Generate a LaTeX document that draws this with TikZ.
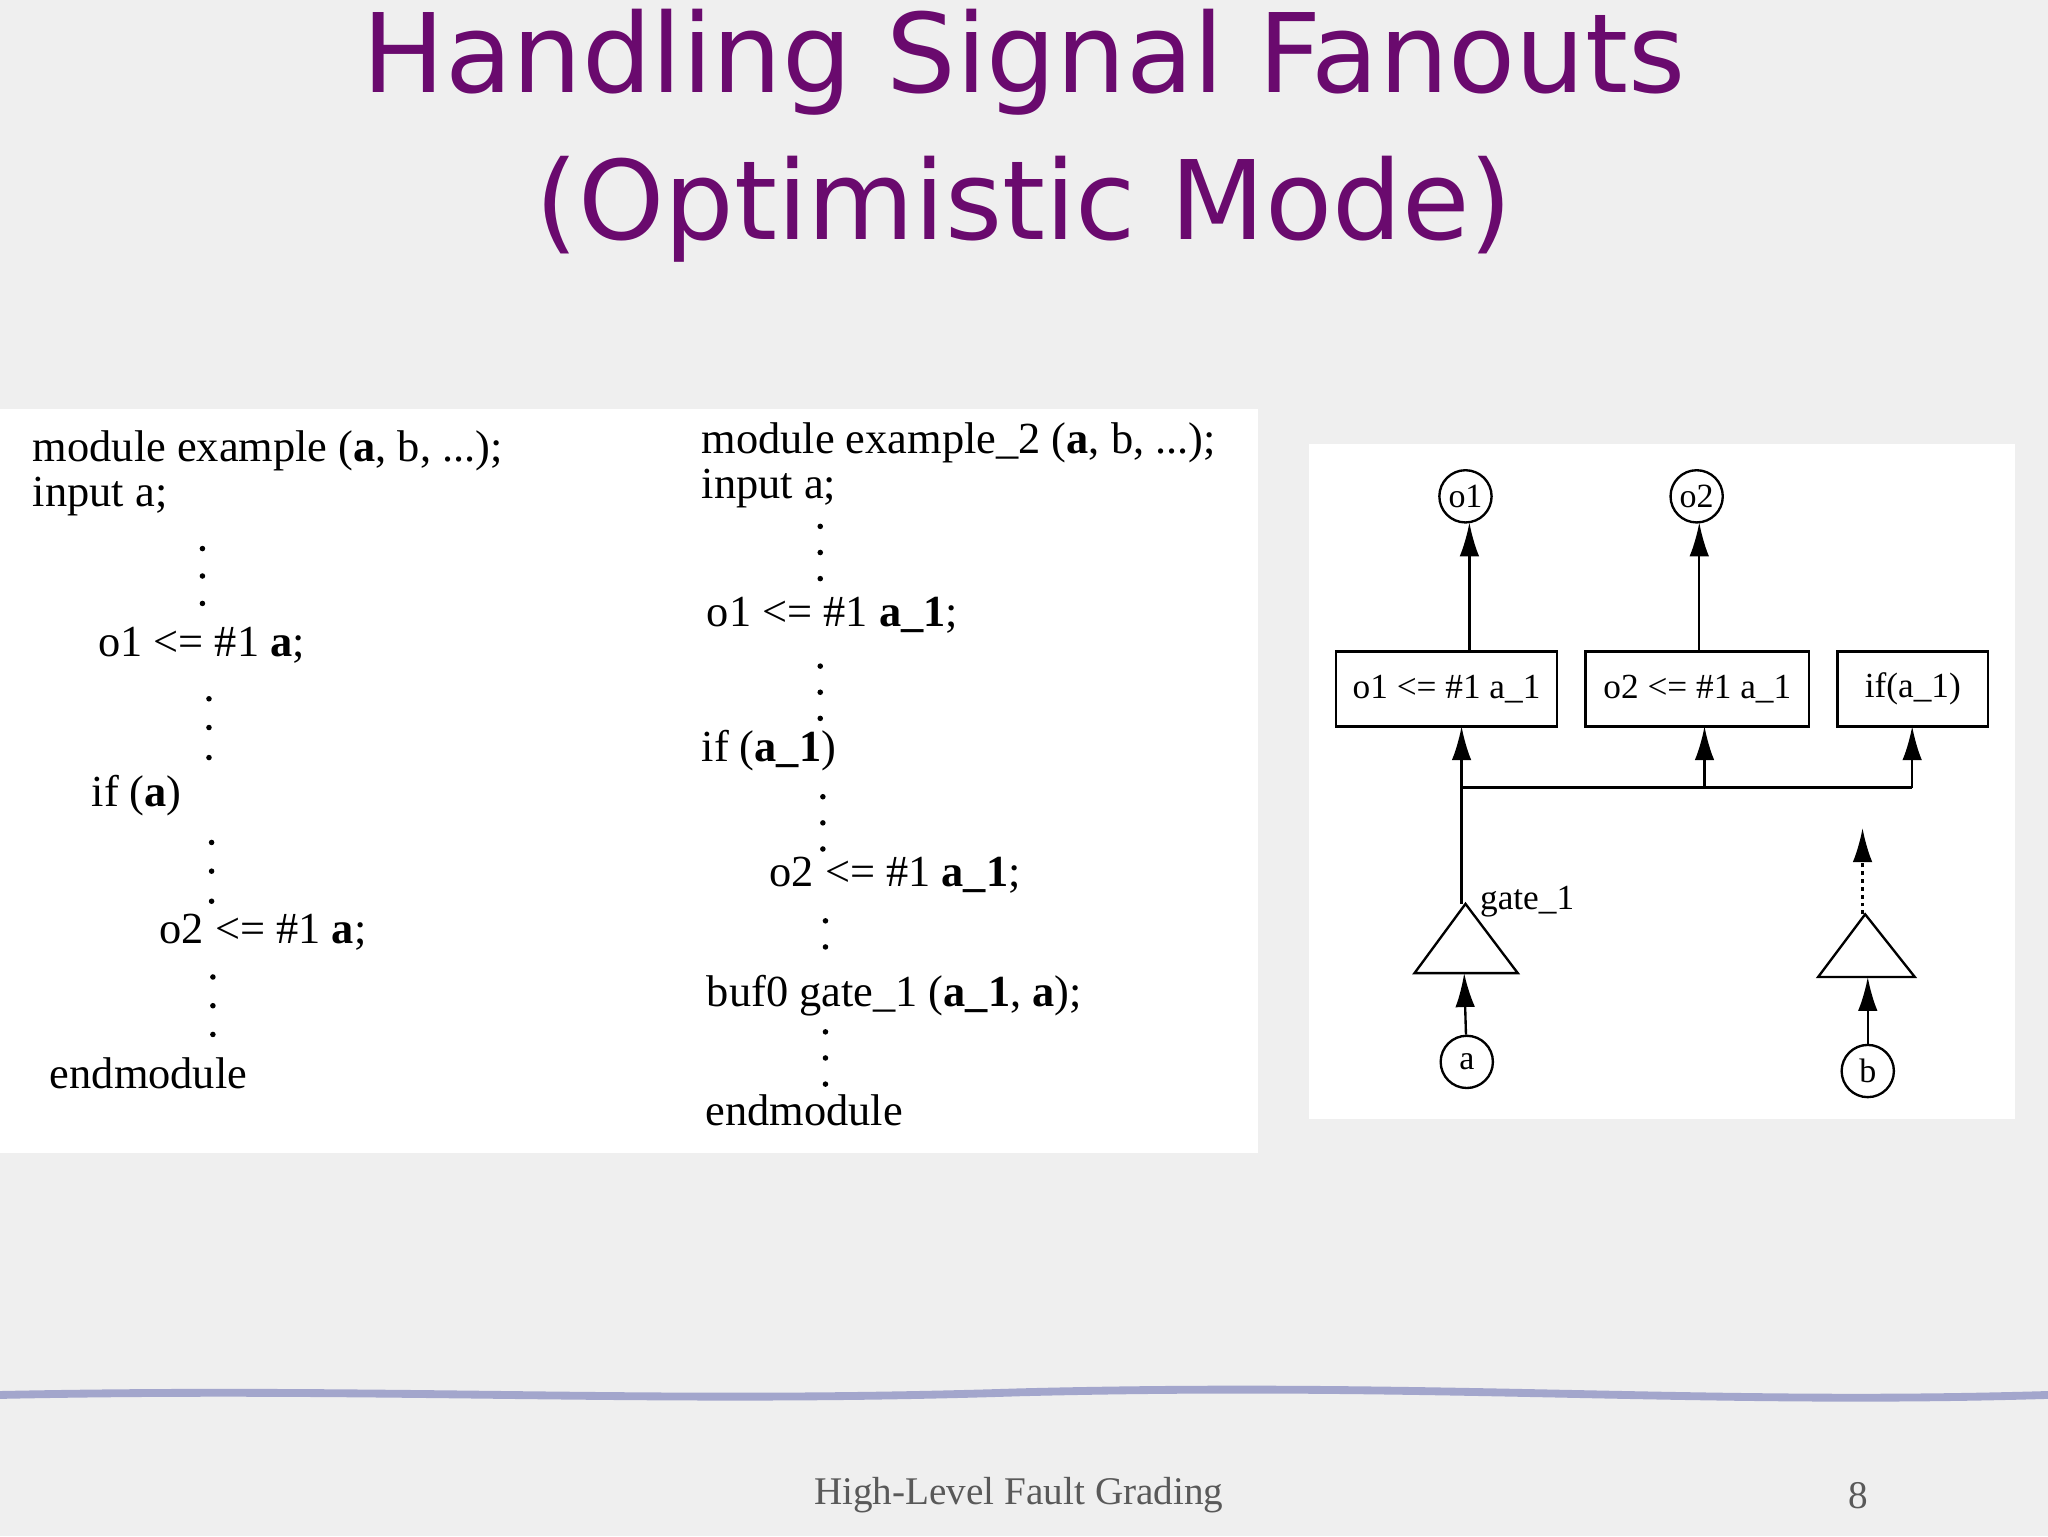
\documentclass[tikz,border=0pt]{standalone}
\usepackage{fontspec}
\setmainfont{Liberation Serif}
\newfontfamily\titlefont{DejaVu Sans}
\usetikzlibrary{arrows.meta}
\definecolor{ttl}{HTML}{6A0A6E}
\definecolor{bg}{HTML}{EFEFEF}
\definecolor{wave}{HTML}{A3A6CC}
\tikzset{
 code/.style={anchor=west,inner sep=0pt,font=\fontsize{34}{36}\selectfont},
 lab/.style={inner sep=0pt,font=\fontsize{27}{29}\selectfont},
 dt/.style={fill=black,circle,inner sep=1.5pt},
 pin/.style={draw,circle,minimum size=40pt,inner sep=0pt,line width=1.8pt,font=\fontsize{26}{28}\selectfont},
 gbox/.style={draw,line width=2pt,minimum height=57pt,inner sep=0pt,font=\fontsize{27}{29}\selectfont},
 ar/.style={line width=1.8pt,-{Latex[length=26pt,width=15pt]}},
}
\begin{document}
\begin{tikzpicture}[x=1pt,y=-1pt]
\fill[bg] (0,0) rectangle (1568,1176);
\useasboundingbox (0,0) rectangle (1568,1176);
\node[ttl,font=\titlefont\fontsize{84}{88}\selectfont] (t1) at (784,48) {Handling Signal Fanouts};
\node[ttl,font=\titlefont\fontsize{84}{88}\selectfont] (t2) at (784,160) {(Optimistic Mode)};
\fill[white] (0,313) rectangle (963,883);
\fill[white] (1002,340) rectangle (1543,857);
% left code
\node[code] (l1) at (25,345) {module example (\textbf{a}, b, ...);};
\node[code] (l2) at (25,380) {input a;};
\foreach \y in {420,441,462} \node[dt] at (155,\y) {};
\node[code] (l3) at (75,494) {o1 <= \#1 \textbf{a};};
\foreach \y in {535,557,580} \node[dt] at (160,\y) {};
\node[code] (l4) at (70,609) {if (\textbf{a})};
\foreach \y in {645,667,690} \node[dt] at (162,\y) {};
\node[code] (l5) at (122,714) {o2 <= \#1 \textbf{a};};
\foreach \y in {748,770,792} \node[dt] at (163,\y) {};
\node[code] (l6) at (38,822) {endmodule};
% middle code
\node[code] (m1) at (537,339) {module example\_2 (\textbf{a}, b, ...);};
\node[code] (m2) at (537,374) {input a;};
\foreach \y in {403,423,443} \node[dt] at (628,\y) {};
\node[code] (m3) at (541,471) {o1 <= \#1 \textbf{a\_1};};
\foreach \y in {510,530,550} \node[dt] at (628,\y) {};
\node[code] (m4) at (537,575) {if (\textbf{a\_1})};
\foreach \y in {610,630,650} \node[dt] at (630,\y) {};
\node[code] (m5) at (589,670) {o2 <= \#1 \textbf{a\_1};};
\foreach \y in {705,725} \node[dt] at (632,\y) {};
\node[code] (m6) at (541,762) {buf0 gate\_1 (\textbf{a\_1}, \textbf{a});};
\foreach \y in {790,810,830} \node[dt] at (632,\y) {};
\node[code] (m7) at (540,850) {endmodule};
% diagram
\node[pin] (o1) at (1122,380) {o1};
\node[pin] (o2) at (1299,380) {o2};
\node[gbox,minimum width=169pt] (b1) at (1107.5,527.5) {o1 <= \#1 a\_1};
\node[gbox,minimum width=171pt] (b2) at (1299.5,527.5) {o2 <= \#1 a\_1};
\node[gbox,minimum width=115pt] (b3) at (1464.5,527.5) {if(a\_1)};
\draw[ar] (1125,499) -- (1125,400);
\draw[ar] (1301,499) -- (1301,400);
\coordinate (j) at (1119,603);
\draw[line width=1.8pt] (j) -- (1464,603);
\draw[ar] (j) -- (1119,556);
\draw[ar] (1305,603) -- (1305,556);
\draw[ar] (1464,603) -- (1464,556);
\draw[line width=1.8pt] (1122,692) -- (1162,745) -- (1083,745) -- cycle;
\draw[line width=1.8pt] (j) -- (1119,692);
\node[lab,anchor=west] (gl) at (1133,690) {gate\_1};
\node[pin] (a) at (1123,813) {a};
\draw[ar] (a) -- (1121,745);
\draw[line width=1.8pt] (1428,700) -- (1466,748) -- (1392,748) -- cycle;
\node[pin] (b) at (1430,820) {b};
\draw[ar] (b) -- (1430,748);
\draw[ar,dashed] (1426,700) -- (1426,634);
% footer
\draw[wave,line width=6pt] (0,1068) .. controls (300,1062) and (500,1075) .. (780,1066) .. controls (1100,1058) and (1300,1076) .. (1568,1068);
\node[gray!70!black,font=\fontsize{30}{32}\selectfont] (ft) at (780,1145) {High-Level Fault Grading};
\node[gray!70!black,font=\fontsize{30}{32}\selectfont] (pg) at (1423,1145) {8};
\end{tikzpicture}
\end{document}
